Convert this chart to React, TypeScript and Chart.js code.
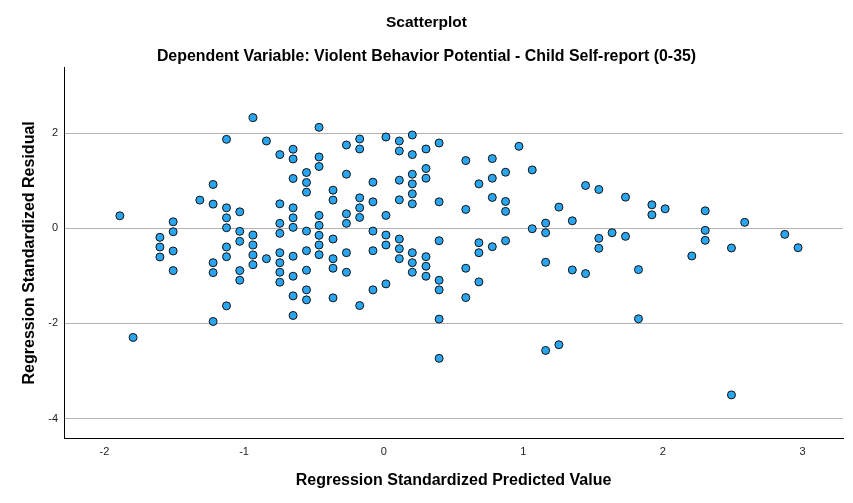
import React, { useEffect, useRef } from "react";
import { Chart, registerables } from "chart.js";

Chart.register(...registerables);

const chartTitle = "Scatterplot";
const chartSubtitle = "Dependent Variable: Violent Behavior Potential - Child Self-report (0-35)";
const xAxisTitle = "Regression Standardized Predicted Value";
const yAxisTitle = "Regression Standardized Residual";

const xTicks = [-2, -1, 0, 1, 2, 3];
const yTicks = [-4, -2, 0, 2];

// Each entry of predictedColumns pairs with the residuals of that column
const predictedColumns = [
  -1.890, -1.795, -1.603, -1.508, -1.317, -1.222, -1.126, -1.031, -0.936, -0.840,
  -0.744, -0.649, -0.553, -0.463, -0.363, -0.267, -0.172, -0.077, 0.016, 0.112,
  0.205, 0.303, 0.397, 0.588, 0.682, 0.778, 0.873, 0.969, 1.064, 1.160,
  1.255, 1.351, 1.446, 1.541, 1.636, 1.732, 1.825, 1.921, 2.016, 2.207,
  2.303, 2.491, 2.586, 2.873, 2.968,
];

const residualColumns: number[][] = [
  [0.264],
  [-2.295],
  [-0.189, -0.392, -0.602],
  [0.138, -0.071, -0.476, -0.889],
  [0.594],
  [0.923, 0.510, -0.722, -0.931, -1.959],
  [1.873, 0.432, 0.222, 0.013, -0.392, -0.596, -1.630],
  [0.348, -0.063, -0.273, -0.889, -1.091],
  [2.329, -0.141, -0.350, -0.560, -0.764],
  [1.838, -0.638],
  [1.552, 0.516, 0.105, -0.105, -0.512, -0.722, -0.923, -1.133],
  [1.664, 1.460, 1.049, 0.432, 0.222, 0.021, -0.587, -1.007, -1.420, -1.833],
  [1.175, 0.965, 0.761, -0.057, -0.470, -0.881, -1.294, -1.504],
  [2.125, 1.502, 1.301, 0.273, 0.063, -0.147, -0.350, -0.554],
  [0.803, 0.594, -0.224, -0.638, -0.839, -1.462],
  [1.754, 1.139, 0.306, 0.105, -0.512, -0.923],
  [1.880, 1.670, 0.642, 0.432, 0.231, -1.624],
  [0.971, 0.558, -0.057, -0.470, -1.294],
  [1.922, 0.273, -0.141, -0.350, -1.168],
  [1.838, 1.628, 1.013, 0.600, -0.224, -0.428, -0.638],
  [1.964, 1.552, 1.139, 0.936, 0.726, 0.516, -0.512, -0.722, -0.923],
  [1.670, 1.259, 1.055, -0.596, -0.797, -1.007],
  [1.796, 0.558, -0.260, -1.091, -1.294, -1.909, -2.735],
  [1.426, 0.399, -0.839, -1.456],
  [0.936, -0.302, -0.512, -1.126],
  [1.468, 1.055, 0.650, -0.386],
  [1.181, 0.566, 0.357, -0.260],
  [1.726],
  [1.229, -0.008],
  [0.111, -0.092, -0.713, -2.568],
  [0.447, -2.448],
  [0.159, -0.875],
  [0.902, -0.952],
  [0.818, -0.210, -0.420],
  [-0.092],
  [0.657, -0.168],
  [-0.868, -1.903],
  [0.495, 0.285],
  [0.411],
  [-0.581],
  [0.369, -0.042, -0.252],
  [-0.413, -3.503],
  [0.126],
  [-0.126],
  [-0.407],
];

const FONT = "'Liberation Sans', Arial, sans-serif";

export default function App() {
  const canvasRef = useRef<HTMLCanvasElement | null>(null);

  useEffect(() => {
    document.body.style.margin = "0";
    const canvas = canvasRef.current;
    if (!canvas) return;

    const points: { x: number; y: number }[] = [];
    predictedColumns.forEach((x, i) => {
      residualColumns[i].forEach((y) => points.push({ x, y }));
    });

    const chart = new Chart(canvas, {
      type: "scatter",
      data: {
        datasets: [
          {
            data: points,
            pointRadius: 4,
            pointHoverRadius: 4,
            pointBackgroundColor: "#2aa5ef",
            pointBorderColor: "#111111",
            pointBorderWidth: 1,
          },
        ],
      },
      options: {
        animation: false,
        responsive: false,
        maintainAspectRatio: false,
        layout: { padding: { left: 10, right: 10, top: 0, bottom: 0 } },
        plugins: {
          legend: { display: false },
          tooltip: { enabled: false },
          title: {
            display: true,
            text: chartTitle,
            color: "#000",
            font: { family: FONT, size: 15.5, weight: "bold" },
            padding: { top: 13, bottom: 15 },
          },
          subtitle: {
            display: true,
            text: chartSubtitle,
            color: "#000",
            font: { family: FONT, size: 15.9, weight: "bold" },
            padding: { top: 0, bottom: 2 },
          },
        },
        scales: {
          x: {
            type: "linear",
            min: -2.29,
            max: 3.29,
            afterBuildTicks: (scale: any) => {
              scale.ticks = xTicks.map((v) => ({ value: v }));
            },
            afterFit: (scale: any) => {
              scale.height = 65;
            },
            grid: { display: false, drawTicks: false },
            border: { display: true, color: "#000", width: 1 },
            ticks: {
              color: "#222",
              font: { family: FONT, size: 11 },
              padding: 7,
              maxRotation: 0,
              autoSkip: false,
            },
            title: {
              display: true,
              text: xAxisTitle,
              color: "#000",
              font: { family: FONT, size: 16, weight: "bold" },
              padding: { top: 0, bottom: 13 },
            },
          },
          y: {
            type: "linear",
            min: -4.41,
            max: 3.38,
            afterBuildTicks: (scale: any) => {
              scale.ticks = yTicks.map((v) => ({ value: v }));
            },
            afterFit: (scale: any) => {
              scale.width = 54;
            },
            grid: { display: true, color: "#b3b3b3", lineWidth: 1, drawTicks: false },
            border: { display: true, color: "#000", width: 1 },
            ticks: {
              color: "#222",
              font: { family: FONT, size: 11 },
              padding: 6,
            },
            title: {
              display: true,
              text: yAxisTitle,
              color: "#000",
              font: { family: FONT, size: 16, weight: "bold" },
              padding: { top: 10, bottom: 0 },
            },
          },
        },
      },
    });

    return () => {
      chart.destroy();
    };
  }, []);

  return (
    <div style={{ width: 853, height: 503, background: "#fff" }}>
      <canvas ref={canvasRef} width={853} height={503} style={{ display: "block" }} />
    </div>
  );
}
